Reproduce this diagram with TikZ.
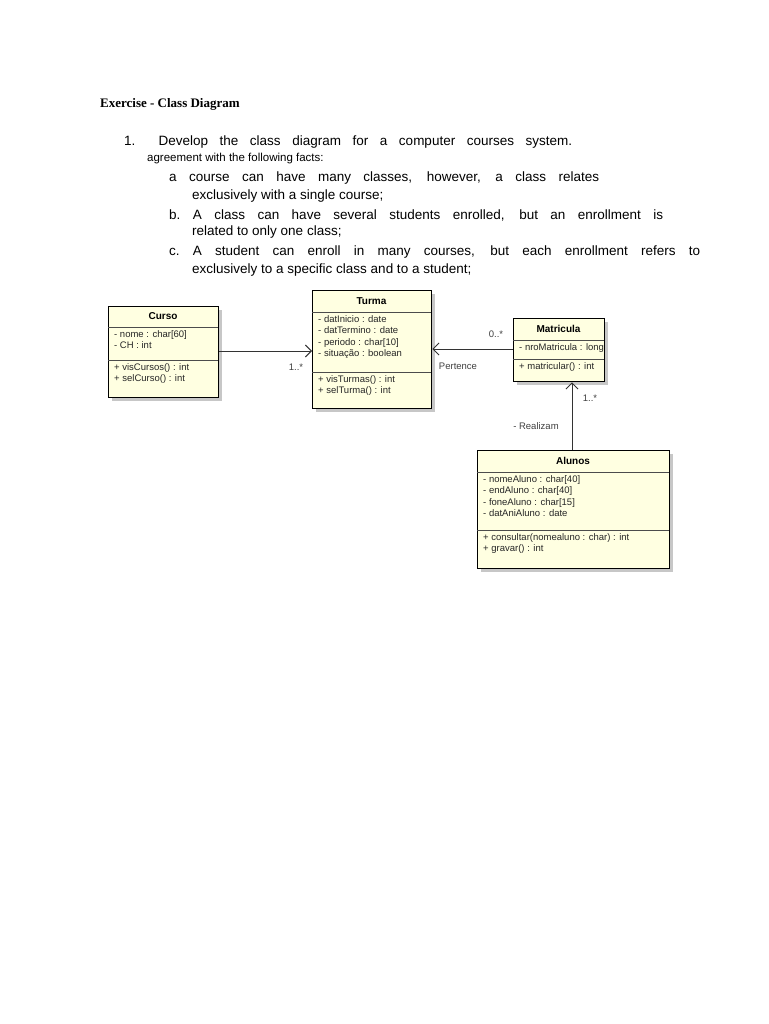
\documentclass[tikz,border=0pt]{standalone}
\usepackage{fontspec}
\setmainfont{Liberation Sans}
\newfontfamily\serifb{Liberation Serif}
\usetikzlibrary{arrows.meta}
\definecolor{umlfill}{RGB}{255,255,225}
\tikzset{
  cls/.style={draw=black, line width=1.4pt, fill=umlfill, anchor=north west, inner sep=0pt},
  shadowbox/.style={fill=black!22},
  ttl/.style={font=\fontsize{10}{12}\selectfont\bfseries, anchor=center},
  mem/.style={font=\fontsize{9.5}{11.6}\selectfont, anchor=north west, align=left, inner sep=0pt, text=black!85},
  sep/.style={draw=black!70, line width=0.8pt},
  assoc/.style={draw=black!80, line width=0.9pt, -{Straight Barb[length=6pt,width=12pt]}},
  lbl/.style={font=\fontsize{9.5}{11}\selectfont, text=black!75},
  body/.style={font=\fontsize{13.5}{16}\selectfont, anchor=base west, inner sep=0pt}
}
\newcommand{\umlclass}[9]{%
 % #1 name, #2 x, #3 y, #4 w, #5 header h, #6 attr h, #7 meth h, #8 attrs, #9 meths
 \fill[shadowbox] (#2+4,-#3-4) rectangle (#2+#4+4,-#3-#5-#6-#7-4);
 \node[cls, minimum width=#4pt, minimum height=#5pt+#6pt+#7pt] (#1) at (#2,-#3) {};
 \draw[sep] (#2,-#3-#5) -- (#2+#4,-#3-#5);
 \draw[sep] (#2,-#3-#5-#6) -- (#2+#4,-#3-#5-#6);
 \node[mem] (#1attr) at (#2+6,-#3-#5-3) {#8};
 \node[mem] (#1meth) at (#2+6,-#3-#5-#6-3) {#9};
}
\begin{document}
\begin{tikzpicture}[x=1pt,y=1pt]
\useasboundingbox[fill=white] (0,0) rectangle (768,-1024);
\node[anchor=base west, inner sep=0pt, font=\serifb\fontsize{13}{15}\selectfont\bfseries] (title) at (100,-108) {Exercise - Class Diagram};
\node[body] (l1) at (124,-146) {\makebox[448pt][s]{1.\ \ Develop the class diagram for a computer courses system.}};
\node[body, font=\fontsize{11.5}{14}\selectfont] (l2) at (147,-162) {agreement with the following facts:};
\node[body] (a1) at (169,-182) {\makebox[430pt][s]{a course can have many classes, however, a class relates}};
\node[body] (a2) at (192,-200) {exclusively with a single course;};
\node[body] (b1) at (169,-219) {\makebox[494pt][s]{b.\ A class can have several students enrolled, but an enrollment is}};
\node[body] (b2) at (192,-236) {related to only one class;};
\node[body] (c1) at (169,-255) {\makebox[531pt][s]{c.\ A student can enroll in many courses, but each enrollment refers to}};
\node[body] (c2) at (192,-273) {exclusively to a specific class and to a student;};

\umlclass{curso}{108}{306}{110}{21}{33}{37}{- nome : char[60]\\- CH : int}{+ visCursos() : int\\+ selCurso() : int}
\node[ttl] at (163,-316.5) {Curso};
\umlclass{turma}{312}{290}{119}{22}{60}{36}{- datInicio : date\\- datTermino : date\\- periodo : char[10]\\- situação : boolean}{+ visTurmas() : int\\+ selTurma() : int}
\node[ttl] at (371.5,-301) {Turma};
\umlclass{matr}{513}{318}{91}{22}{19}{22}{- nroMatricula : long}{+ matricular() : int}
\node[ttl] at (558.5,-329) {Matricula};
\umlclass{alunos}{477}{450}{192}{22}{58}{38}{- nomeAluno : char[40]\\- endAluno : char[40]\\- foneAluno : char[15]\\- datAniAluno : date}{+ consultar(nomealuno : char) : int\\+ gravar() : int}
\node[ttl] at (573,-461) {Alunos};

\draw[assoc] (curso.east |- 0,-351) -- (turma.west |- 0,-351);
\node[lbl] (m1) at (296,-367) {1..*};
\draw[assoc] (matr.west |- 0,-349) -- (turma.east |- 0,-349);
\node[lbl] (m2) at (496,-334) {0..*};
\node[lbl] (pert) at (458,-366) {Pertence};
\draw[assoc] (alunos.north -| 572,0) -- (matr.south -| 572,0);
\node[lbl] (m3) at (590,-398) {1..*};
\node[lbl] (real) at (536,-426) {- Realizam};
\end{tikzpicture}
\end{document}
